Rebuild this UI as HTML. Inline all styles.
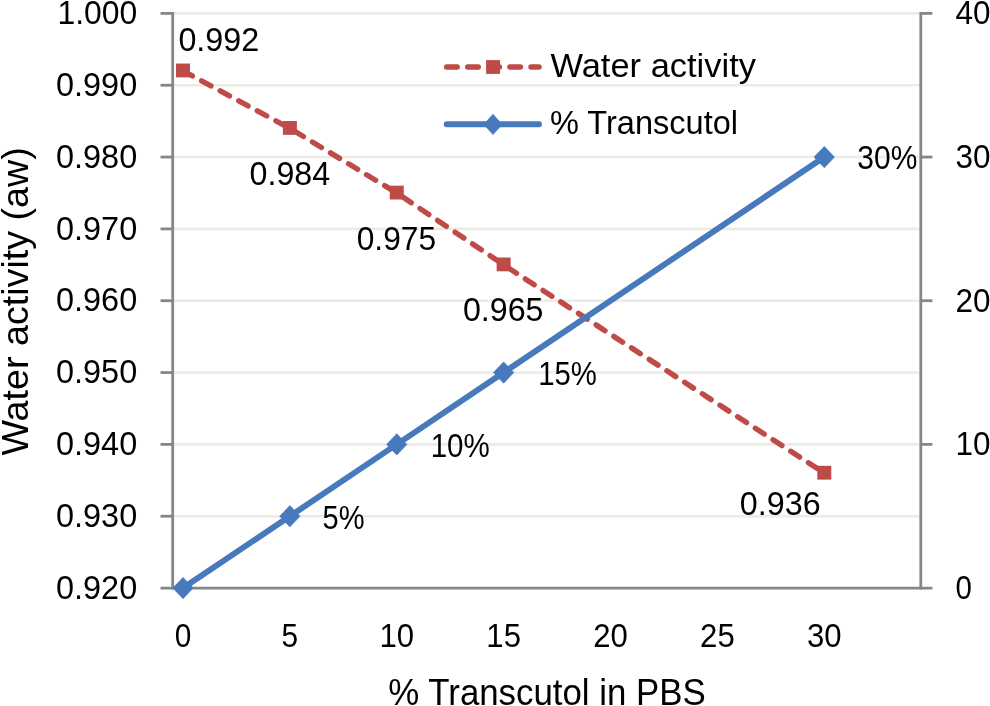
<!DOCTYPE html>
<html lang="en"><head><meta charset="utf-8"><title>Water activity vs % Transcutol in PBS</title>
<style>html,body{margin:0;padding:0;background:#fff}svg{display:block}</style></head>
<body>
<svg width="990" height="706" viewBox="0 0 990 706" font-family="Liberation Sans, sans-serif" fill="#000">
<rect width="990" height="706" fill="#fff"/>
<g stroke="#edece4" stroke-width="2.6">
<line x1="173.9" x2="919.2" y1="13.40" y2="13.40"/>
<line x1="173.9" x2="919.2" y1="85.23" y2="85.23"/>
<line x1="173.9" x2="919.2" y1="157.06" y2="157.06"/>
<line x1="173.9" x2="919.2" y1="228.89" y2="228.89"/>
<line x1="173.9" x2="919.2" y1="300.72" y2="300.72"/>
<line x1="173.9" x2="919.2" y1="372.55" y2="372.55"/>
<line x1="173.9" x2="919.2" y1="444.38" y2="444.38"/>
<line x1="173.9" x2="919.2" y1="516.21" y2="516.21"/>
</g>
<g stroke="#868686" stroke-width="2.8" fill="none">
<line x1="172.7" x2="172.7" y1="12.10" y2="589.44"/>
<line x1="920.8" x2="920.8" y1="12.10" y2="589.44"/>
<line x1="160.5" x2="932.4" y1="588.04" y2="588.04"/>
<line x1="160.5" x2="172.7" y1="13.40" y2="13.40"/>
<line x1="160.5" x2="172.7" y1="85.23" y2="85.23"/>
<line x1="160.5" x2="172.7" y1="157.06" y2="157.06"/>
<line x1="160.5" x2="172.7" y1="228.89" y2="228.89"/>
<line x1="160.5" x2="172.7" y1="300.72" y2="300.72"/>
<line x1="160.5" x2="172.7" y1="372.55" y2="372.55"/>
<line x1="160.5" x2="172.7" y1="444.38" y2="444.38"/>
<line x1="160.5" x2="172.7" y1="516.21" y2="516.21"/>
<line x1="920.8" x2="932.4" y1="13.40" y2="13.40"/>
<line x1="920.8" x2="932.4" y1="157.06" y2="157.06"/>
<line x1="920.8" x2="932.4" y1="300.72" y2="300.72"/>
<line x1="920.8" x2="932.4" y1="444.38" y2="444.38"/>
</g>
<polyline points="183.00,70.86 289.88,128.33 396.76,192.98 503.64,264.81 824.28,473.11" fill="none" stroke="#be4b48" stroke-width="5.4" stroke-linecap="round" stroke-linejoin="round" stroke-dasharray="10.6 10.5"/>
<rect x="176.00" y="63.56" width="14" height="13.8" fill="#be4b48"/>
<rect x="282.88" y="121.03" width="14" height="13.8" fill="#be4b48"/>
<rect x="389.76" y="185.68" width="14" height="13.8" fill="#be4b48"/>
<rect x="496.64" y="257.51" width="14" height="13.8" fill="#be4b48"/>
<rect x="817.28" y="465.81" width="14" height="13.8" fill="#be4b48"/>
<polyline points="183.00,588.04 289.88,516.21 396.76,444.38 503.64,372.55 824.28,157.06" fill="none" stroke="#477abc" stroke-width="5.9" stroke-linecap="round" stroke-linejoin="round"/>
<path d="M172.90 588.04L183.00 577.44L193.10 588.04L183.00 598.64Z" fill="#477abc" stroke="#477abc" stroke-width="0.8" stroke-linejoin="miter"/>
<path d="M279.78 516.21L289.88 505.61L299.98 516.21L289.88 526.81Z" fill="#477abc" stroke="#477abc" stroke-width="0.8" stroke-linejoin="miter"/>
<path d="M386.66 444.38L396.76 433.78L406.86 444.38L396.76 454.98Z" fill="#477abc" stroke="#477abc" stroke-width="0.8" stroke-linejoin="miter"/>
<path d="M493.54 372.55L503.64 361.95L513.74 372.55L503.64 383.15Z" fill="#477abc" stroke="#477abc" stroke-width="0.8" stroke-linejoin="miter"/>
<path d="M814.18 157.06L824.28 146.46L834.38 157.06L824.28 167.66Z" fill="#477abc" stroke="#477abc" stroke-width="0.8" stroke-linejoin="miter"/>
<line x1="446.6" x2="539.1" y1="67" y2="67" stroke="#be4b48" stroke-width="5.4" stroke-linecap="round" stroke-dasharray="10.6 10.5"/>
<rect x="486.1" y="60.1" width="14" height="13.8" fill="#be4b48"/>
<line x1="446.7" x2="539" y1="124.3" y2="124.3" stroke="#477abc" stroke-width="5.9" stroke-linecap="round"/>
<path d="M483.90 124.40L493.00 114.30L502.10 124.40L493.00 134.50Z" fill="#477abc" stroke="#477abc" stroke-width="0.8" stroke-linejoin="miter"/>
<text x="550.40" y="76.60" font-size="32.50" textLength="205.60" lengthAdjust="spacingAndGlyphs" >Water activity</text>
<text x="549.90" y="134.00" font-size="32.50" textLength="188.11" lengthAdjust="spacingAndGlyphs" >% Transcutol</text>
<text x="57.40" y="24.17" font-size="33.47" textLength="79.81" lengthAdjust="spacingAndGlyphs" >1.000</text>
<text x="56.00" y="96.00" font-size="33.47" textLength="81.21" lengthAdjust="spacingAndGlyphs" >0.990</text>
<text x="56.00" y="167.83" font-size="33.47" textLength="81.21" lengthAdjust="spacingAndGlyphs" >0.980</text>
<text x="56.00" y="239.66" font-size="33.47" textLength="81.21" lengthAdjust="spacingAndGlyphs" >0.970</text>
<text x="56.00" y="311.49" font-size="33.47" textLength="81.21" lengthAdjust="spacingAndGlyphs" >0.960</text>
<text x="56.00" y="383.32" font-size="33.47" textLength="81.21" lengthAdjust="spacingAndGlyphs" >0.950</text>
<text x="56.00" y="455.15" font-size="33.47" textLength="81.21" lengthAdjust="spacingAndGlyphs" >0.940</text>
<text x="56.00" y="526.98" font-size="33.47" textLength="81.21" lengthAdjust="spacingAndGlyphs" >0.930</text>
<text x="56.00" y="598.81" font-size="33.47" textLength="81.21" lengthAdjust="spacingAndGlyphs" >0.920</text>
<text x="955.60" y="24.37" font-size="33.47" textLength="35.01" lengthAdjust="spacingAndGlyphs" >40</text>
<text x="955.60" y="168.03" font-size="33.47" textLength="35.01" lengthAdjust="spacingAndGlyphs" >30</text>
<text x="955.60" y="311.69" font-size="33.47" textLength="35.01" lengthAdjust="spacingAndGlyphs" >20</text>
<text x="955.60" y="455.35" font-size="33.47" textLength="35.01" lengthAdjust="spacingAndGlyphs" >10</text>
<text x="955.60" y="599.01" font-size="33.47" textLength="16.40" lengthAdjust="spacingAndGlyphs" >0</text>
<text x="174.70" y="646.57" font-size="33.47" textLength="16.60" lengthAdjust="spacingAndGlyphs" >0</text>
<text x="281.58" y="646.56" font-size="33.95" textLength="16.60" lengthAdjust="spacingAndGlyphs" >5</text>
<text x="379.46" y="646.57" font-size="33.47" textLength="34.61" lengthAdjust="spacingAndGlyphs" >10</text>
<text x="486.34" y="646.56" font-size="33.95" textLength="34.61" lengthAdjust="spacingAndGlyphs" >15</text>
<text x="593.22" y="646.57" font-size="33.47" textLength="34.61" lengthAdjust="spacingAndGlyphs" >20</text>
<text x="700.10" y="646.57" font-size="33.47" textLength="34.61" lengthAdjust="spacingAndGlyphs" >25</text>
<text x="806.98" y="646.57" font-size="33.47" textLength="34.61" lengthAdjust="spacingAndGlyphs" >30</text>
<text x="178.40" y="50.67" font-size="33.05" textLength="80.81" lengthAdjust="spacingAndGlyphs" >0.992</text>
<text x="249.50" y="185.27" font-size="33.05" textLength="80.71" lengthAdjust="spacingAndGlyphs" >0.984</text>
<text x="356.70" y="249.67" font-size="33.19" textLength="79.41" lengthAdjust="spacingAndGlyphs" >0.975</text>
<text x="462.90" y="321.27" font-size="33.33" textLength="80.61" lengthAdjust="spacingAndGlyphs" >0.965</text>
<text x="739.80" y="515.37" font-size="33.33" textLength="80.81" lengthAdjust="spacingAndGlyphs" >0.936</text>
<text x="322.50" y="528.86" font-size="33.52" textLength="42.01" lengthAdjust="spacingAndGlyphs" >5%</text>
<text x="430.70" y="457.47" font-size="33.47" textLength="59.11" lengthAdjust="spacingAndGlyphs" >10%</text>
<text x="538.20" y="385.07" font-size="33.38" textLength="58.71" lengthAdjust="spacingAndGlyphs" >15%</text>
<text x="857.30" y="169.47" font-size="33.19" textLength="60.01" lengthAdjust="spacingAndGlyphs" >30%</text>
<text x="388.30" y="705.30" font-size="37.00" textLength="317.41" lengthAdjust="spacingAndGlyphs" >% Transcutol in PBS</text>
<text transform="rotate(-90)" x="-455.60" y="28.4" font-size="37.0" textLength="308.40" lengthAdjust="spacingAndGlyphs">Water activity (aw)</text>
</svg>
</body></html>
